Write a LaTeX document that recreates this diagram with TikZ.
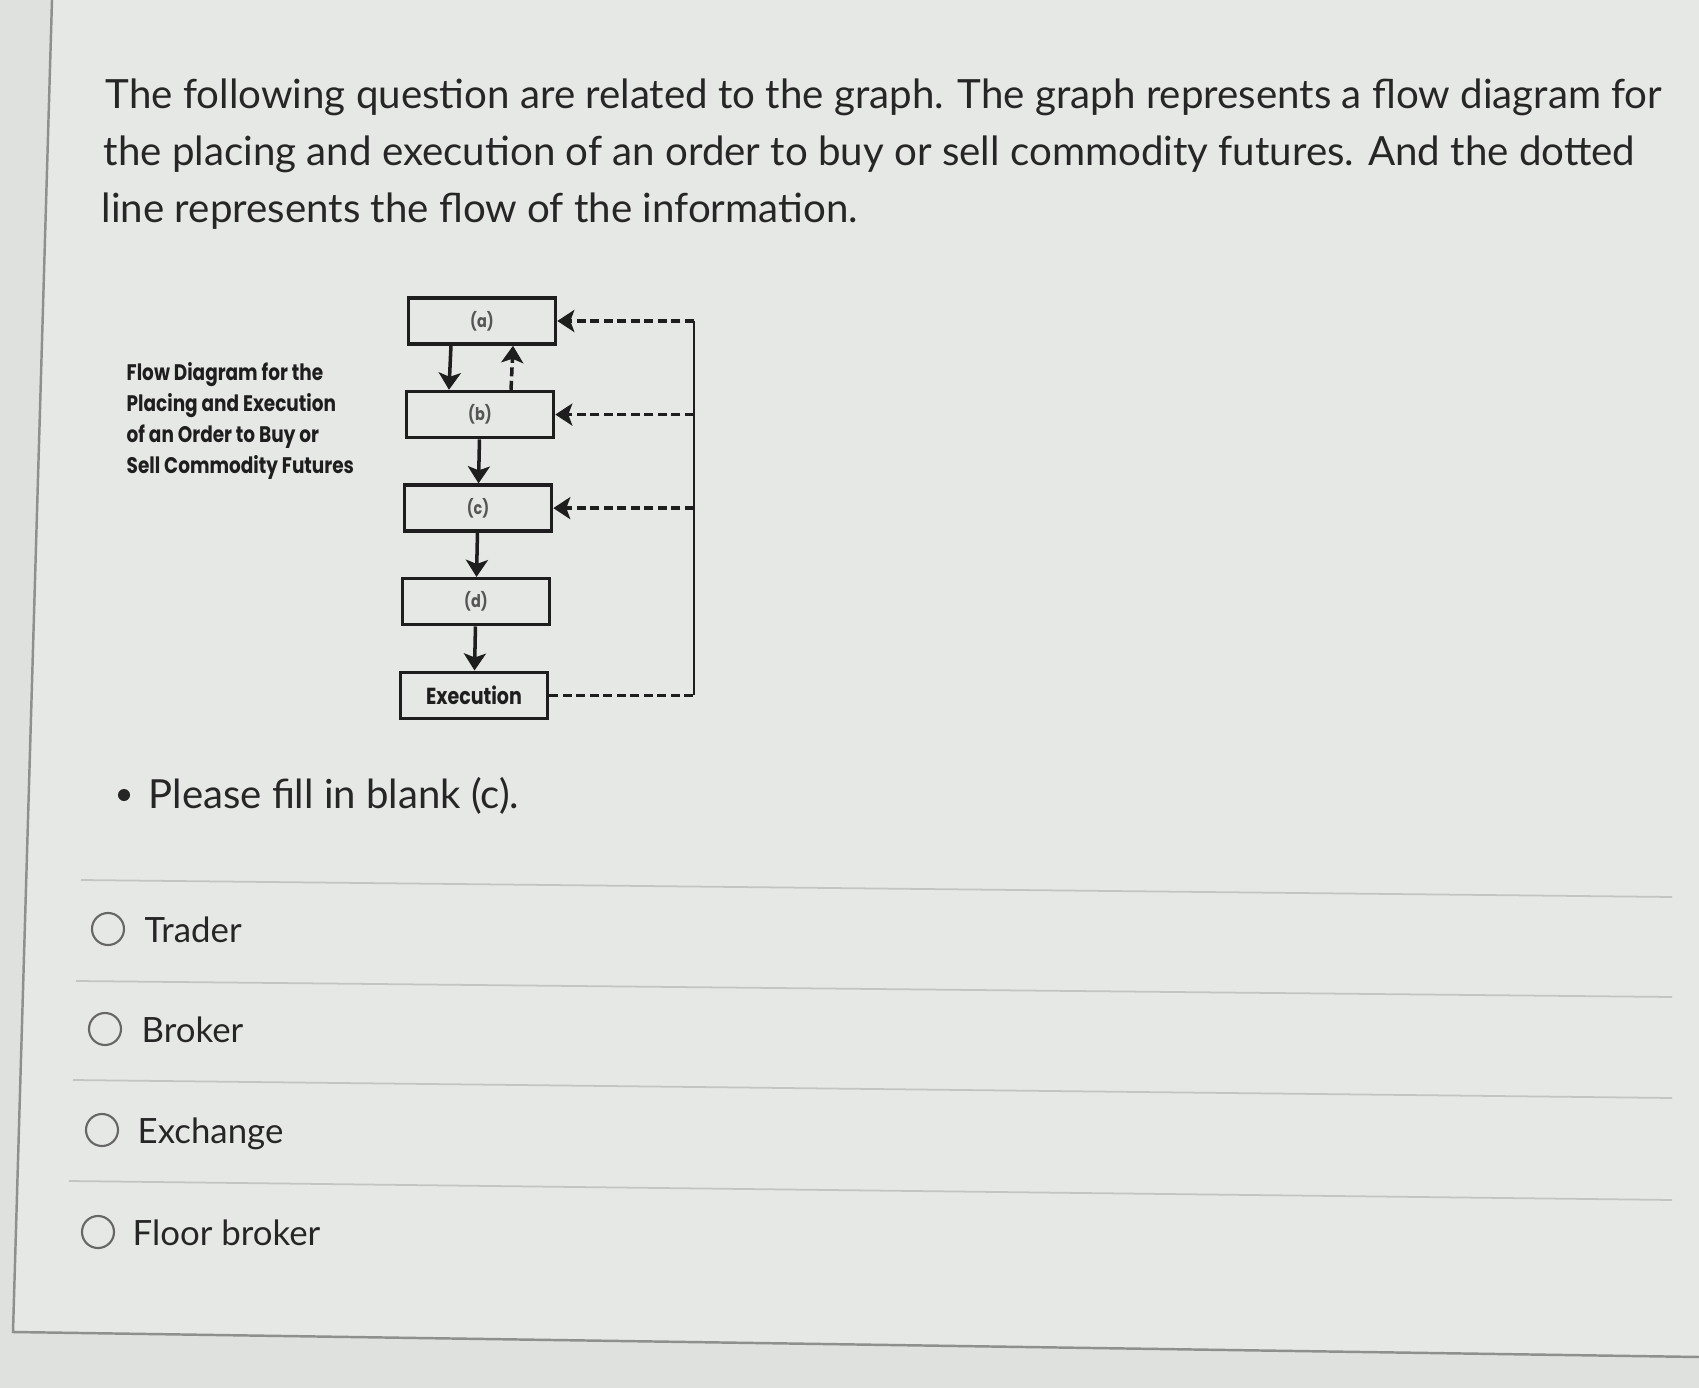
\documentclass[tikz,border=0pt]{standalone}
\usepackage{fontspec}
\setmainfont{Lato}
\newfontfamily\flowfont{Poppins}[FakeStretch=0.82]
\usetikzlibrary{positioning,arrows.meta}

\definecolor{screen}{HTML}{DFE1DE}
\definecolor{page}{HTML}{E6E8E5}
\definecolor{ink}{HTML}{262626}
\definecolor{rule}{HTML}{C3C5C2}
\definecolor{edge}{HTML}{8E908E}
\definecolor{boxline}{HTML}{1E1E1E}
\definecolor{labelgrey}{HTML}{555555}

\begin{document}
\begin{tikzpicture}[x=0.01cm, y=-0.01cm, node distance=0.44cm,
    qline/.style={anchor=base west, inner sep=0pt, text=ink, font=\fontsize{11.45}{13}\selectfont},
    opt/.style={anchor=base west, inner sep=0pt, text=ink, font=\fontsize{9.9}{11}\selectfont},
    radio/.style={circle, draw=black!60, line width=0.6pt, minimum size=0.32cm, inner sep=0pt},
    sep/.style={draw=rule, line width=0.5pt},
    box/.style={draw=boxline, line width=1pt, minimum width=1.47cm, minimum height=0.46cm, inner sep=0pt,
      text=labelgrey, font=\flowfont\bfseries\fontsize{5}{6}\selectfont},
    flow/.style={-{Stealth[length=1.7mm,width=2.2mm,inset=0.4mm]}, line width=1pt, draw=boxline},
    info/.style={flow, dash pattern=on 0.9mm off 0.45mm}]

  % screen and page edges
  \useasboundingbox (0,0) rectangle (1699,1388);
  \fill[screen] (0,0) rectangle (1699,1388);
  \fill[page] (52,0) -- (13,1332) -- (1699,1357) -- (1699,0) -- cycle;
  \draw[edge, line width=0.7pt] (52,0) -- (13,1332) -- (1699,1357);

  % question text
  \node[qline] (q1) at (105,109) {The following question are related to the graph. The graph represents a flow diagram for};
  \node[qline] (q2) at (103,166) {the placing and execution of an order to buy or sell commodity futures. And the dotted};
  \node[qline] (q3) at (101,223) {line represents the flow of the information.};

  % flow diagram
  \node[anchor=north west, inner sep=0pt, align=left, text=boxline,
    font=\flowfont\bfseries\fontsize{6.4}{8.8}\selectfont] (title) at (126,362)
    {Flow Diagram for the\\Placing and Execution\\of an Order to Buy or\\Sell Commodity Futures};

  \node[box] (a) at (482,321) {(a)};
  \node[box, below=of a, xshift=-0.02cm] (b) {(b)};
  \node[box, below=of b, xshift=-0.02cm] (c) {(c)};
  \node[box, below=of c, xshift=-0.02cm] (d) {(d)};
  \node[box, below=of d, xshift=-0.02cm, text=boxline, font=\flowfont\bfseries\fontsize{6.6}{7}\selectfont] (ex) {Execution};

  \draw[flow] ([xshift=-0.31cm]a.south) -- ([xshift=-0.31cm]b.north);
  \draw[info] ([xshift=0.31cm]b.north) -- ([xshift=0.31cm]a.south);
  \foreach \from/\to in {b/c, c/d, d/ex}
    \draw[flow] (\from) -- (\to);

  \coordinate (rail) at (694,321);
  \draw[line width=1pt, draw=boxline, dash pattern=on 0.9mm off 0.45mm] (ex.east) -- (ex.east -| rail);
  \draw[line width=0.8pt, draw=boxline] (ex.east -| rail) -- (rail);
  \foreach \n in {a, b, c}
    \draw[info] (\n.east -| rail) -- (\n.east);

  % answer part
  \node[circle, fill=ink, minimum size=0.12cm, inner sep=0pt] (dot) at (124,795) {};
  \node[qline, font=\fontsize{11.4}{13}\selectfont] (ask) at (148,808) {Please fill in blank (c).};

  \draw[sep] (81,880) -- (1672,897);
  \draw[sep] (76,981) -- (1672,997);
  \draw[sep] (73,1080) -- (1672,1098);
  \draw[sep] (69,1181) -- (1672,1200);

  \node[radio] (r1) at (108,929) {};
  \node[radio] (r2) at (105,1029) {};
  \node[radio] (r3) at (102,1130) {};
  \node[radio] (r4) at (98,1232) {};
  \node[opt] (o1) at (144,942) {Trader};
  \node[opt] (o2) at (141,1042) {Broker};
  \node[opt] (o3) at (137,1143) {Exchange};
  \node[opt] (o4) at (132,1245) {Floor broker};
\end{tikzpicture}
\end{document}
